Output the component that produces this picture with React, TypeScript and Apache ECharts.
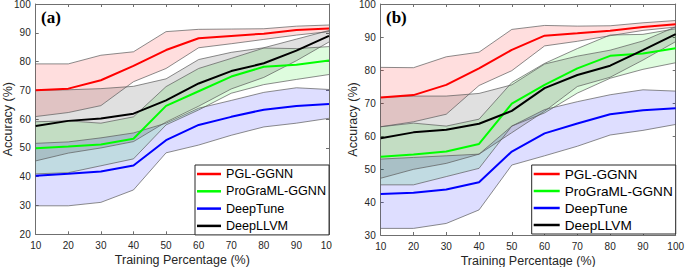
import React, { useEffect, useRef } from 'react';
import * as echarts from 'echarts';

const categories = ['10', '20', '30', '40', '50', '60', '70', '80', '90', '100'];
const seriesNames = ['PGL-GGNN', 'ProGraML-GGNN', 'DeepTune', 'DeepLLVM'];
const lineColors = ['#ff0000', '#00ff00', '#0000ff', '#000000'];
const bandColors = ['rgba(255,0,0,0.13)', 'rgba(0,230,0,0.13)', 'rgba(0,0,255,0.13)', 'rgba(0,0,0,0.12)'];

// Panel (a)
const aPglMean = [70.0, 70.6, 73.5, 78.5, 84.0, 88.1, 88.9, 89.7, 91.0, 91.5];
const aPglUpper = [79.2, 79.2, 82.2, 83.4, 90.4, 91.2, 91.3, 91.4, 92.3, 92.7];
const aPglLower = [60.9, 62.3, 64.7, 73.0, 77.6, 84.8, 86.2, 87.7, 89.2, 90.4];
const aProMean = [49.9, 50.5, 51.2, 53.2, 64.6, 69.7, 74.8, 78.2, 78.9, 80.4];
const aProUpper = [59.1, 59.4, 58.6, 60.8, 71.3, 77.6, 81.1, 84.7, 84.5, 85.2];
const aProLower = [41.0, 41.4, 43.8, 46.2, 58.0, 63.2, 69.0, 72.0, 73.8, 75.5];
const aTuneMean = [40.3, 41.0, 41.8, 43.9, 52.7, 58.0, 60.8, 63.3, 64.6, 65.3];
const aTuneUpper = [51.6, 52.1, 53.5, 55.2, 58.6, 63.8, 66.5, 69.3, 70.9, 70.3];
const aTuneLower = [29.9, 29.9, 31.1, 35.4, 48.3, 51.0, 54.4, 57.3, 58.6, 60.3];
const aLlvmMean = [57.6, 59.4, 60.2, 61.9, 66.5, 72.4, 76.7, 79.4, 83.8, 88.9];
const aLlvmUpper = [70.0, 70.2, 70.6, 71.4, 74.0, 80.7, 83.2, 84.8, 87.8, 90.8];
const aLlvmLower = [45.5, 48.2, 50.0, 52.2, 59.0, 64.5, 70.5, 74.5, 80.3, 86.8];

// Panel (b)
const bPglMean = [71.7, 72.4, 75.5, 80.5, 86.1, 90.4, 91.1, 91.9, 93.0, 93.9];
const bPglUpper = [80.8, 80.7, 84.0, 85.4, 92.3, 93.5, 93.3, 93.4, 94.3, 95.0];
const bPglLower = [62.8, 64.3, 66.6, 75.3, 79.8, 87.3, 88.7, 90.4, 92.0, 93.0];
const bProMean = [53.7, 54.4, 55.3, 57.6, 69.8, 75.5, 80.5, 84.3, 85.0, 86.6];
const bProUpper = [62.8, 63.9, 63.0, 65.1, 76.2, 82.0, 86.5, 90.6, 90.8, 92.5];
const bProLower = [45.2, 45.2, 47.7, 50.2, 63.0, 67.0, 73.0, 77.5, 80.2, 82.2];
const bTuneMean = [42.4, 42.8, 43.8, 46.0, 55.3, 60.8, 63.8, 66.6, 67.8, 68.4];
const bTuneUpper = [53.0, 53.5, 54.0, 54.5, 63.0, 68.0, 70.4, 72.5, 74.0, 73.6];
const bTuneLower = [32.0, 32.0, 33.5, 37.6, 51.2, 54.0, 56.9, 60.3, 61.7, 63.5];
const bLlvmMean = [59.3, 61.1, 61.9, 63.7, 67.6, 74.5, 78.5, 81.3, 86.0, 90.9];
const bLlvmUpper = [71.7, 72.1, 72.1, 72.9, 75.5, 81.8, 84.2, 86.0, 88.8, 93.1];
const bLlvmLower = [47.2, 49.9, 51.7, 54.5, 61.0, 67.5, 75.0, 77.8, 83.0, 88.6];

const yTicksA = { min: 20, max: 100, interval: 10 };
const yTicksB = { min: 30, max: 100, interval: 10 };

const FONT = '"Liberation Sans", Arial, sans-serif';
const AXIS_COLOR = '#6f6f6f';
const TEXT_COLOR = '#262626';

function buildSeries(means: number[][], uppers: number[][], lowers: number[][]) {
  const bands: any[] = [];
  const lines: any[] = [];
  for (let i = 0; i < means.length; i++) {
    bands.push({
      type: 'line',
      name: 'band-low-' + i,
      stack: 'band' + i,
      data: lowers[i],
      symbol: 'none',
      silent: true,
      emphasis: { disabled: true },
      lineStyle: { color: '#5a5a5a', width: 0.7 },
      z: 1,
    });
    bands.push({
      type: 'line',
      name: 'band-high-' + i,
      stack: 'band' + i,
      data: uppers[i].map((u, j) => +(u - lowers[i][j]).toFixed(3)),
      symbol: 'none',
      silent: true,
      emphasis: { disabled: true },
      lineStyle: { color: '#5a5a5a', width: 0.7 },
      areaStyle: { color: bandColors[i], opacity: 1 },
      z: 1,
    });
    lines.push({
      type: 'line',
      name: seriesNames[i],
      data: means[i],
      symbol: 'none',
      emphasis: { disabled: true },
      lineStyle: { color: lineColors[i], width: 2 },
      itemStyle: { color: lineColors[i] },
      z: 3,
    });
  }
  return [...bands, ...lines];
}

function makeOption(cfg: any) {
  const axisLine = { show: true, lineStyle: { color: AXIS_COLOR, width: 1 } };
  const tick = { show: true, inside: true, length: 3, lineStyle: { color: AXIS_COLOR } };
  return {
    animation: false,
    grid: {
      left: cfg.gridLeft,
      right: cfg.gridRight,
      top: 4,
      bottom: cfg.gridBottom,
      show: false,
      containLabel: false,
      outerBoundsMode: 'none',
    },
    xAxis: [
      {
        type: 'category',
        data: categories,
        boundaryGap: false,
        axisLine,
        axisTick: { ...tick, interval: 0 },
        axisLabel: { interval: 0, fontSize: 10, color: TEXT_COLOR, fontFamily: FONT, margin: 6, hideOverlap: false },
        splitLine: { show: false },
        name: 'Training Percentage (%)',
        nameLocation: 'middle',
        nameGap: 19,
        nameMoveOverlap: false,
        nameTextStyle: { fontSize: 12.5, color: TEXT_COLOR, fontFamily: FONT },
      },
      {
        type: 'category',
        data: categories,
        boundaryGap: false,
        position: 'top',
        axisLine,
        axisTick: { ...tick, interval: 0 },
        axisLabel: { show: false },
        splitLine: { show: false },
      },
    ],
    yAxis: [
      {
        type: 'value',
        min: cfg.yTicks.min,
        max: cfg.yTicks.max,
        interval: cfg.yTicks.interval,
        axisLine,
        axisTick: tick,
        axisLabel: { fontSize: 10, color: TEXT_COLOR, fontFamily: FONT, margin: 5 },
        splitLine: { show: false },
        name: 'Accuracy (%)',
        nameLocation: 'middle',
        nameGap: 21,
        nameMoveOverlap: false,
        nameTextStyle: { fontSize: 12.5, color: TEXT_COLOR, fontFamily: FONT },
      },
      {
        type: 'value',
        position: 'right',
        min: cfg.yTicks.min,
        max: cfg.yTicks.max,
        interval: cfg.yTicks.interval,
        axisLine,
        axisTick: tick,
        axisLabel: { show: false },
        splitLine: { show: false },
      },
    ],
    legend: {
      orient: 'vertical',
      left: cfg.legendLeft,
      top: 165,
      data: seriesNames,
      icon: 'rect',
      itemWidth: cfg.legendItemWidth,
      itemHeight: 2.5,
      itemGap: cfg.legendGap,
      padding: [1.5, 3, 1.5, 2],
      borderColor: TEXT_COLOR,
      borderWidth: 1,
      borderRadius: 0,
      backgroundColor: '#ffffff',
      selectedMode: false,
      textStyle: { fontSize: cfg.legendFont, fontFamily: FONT, color: '#000', lineHeight: 15 },
    },
    graphic: [
      {
        type: 'text',
        left: 41,
        top: 9,
        style: { text: cfg.tag, font: 'bold 17px "Liberation Serif", "Times New Roman", serif', fill: '#000' },
      },
    ],
    series: buildSeries(cfg.means, cfg.uppers, cfg.lowers),
  };
}

function Chart({ cfg, style }: { cfg: any; style: React.CSSProperties }) {
  const ref = useRef<HTMLDivElement>(null);
  useEffect(() => {
    if (!ref.current) return;
    const chart = echarts.init(ref.current, null, { renderer: 'svg' });
    chart.setOption(makeOption(cfg));
    return () => chart.dispose();
  }, [cfg]);
  return <div ref={ref} style={style} />;
}

const cfgA = {
  tag: '(a)',
  yTicks: yTicksA,
  gridLeft: 35.7,
  gridRight: 3,
  gridBottom: 32.7,
  legendLeft: 195,
  legendItemWidth: 24,
  legendGap: 2.3,
  legendFont: 12.6,
  means: [aPglMean, aProMean, aTuneMean, aLlvmMean],
  uppers: [aPglUpper, aProUpper, aTuneUpper, aLlvmUpper],
  lowers: [aPglLower, aProLower, aTuneLower, aLlvmLower],
};

const cfgB = {
  tag: '(b)',
  yTicks: yTicksB,
  gridLeft: 35.7,
  gridRight: 9.3,
  gridBottom: 32,
  legendLeft: 186.7,
  legendItemWidth: 26,
  legendGap: 2,
  legendFont: 13.6,
  means: [bPglMean, bProMean, bTuneMean, bLlvmMean],
  uppers: [bPglUpper, bProUpper, bTuneUpper, bLlvmUpper],
  lowers: [bPglLower, bProLower, bTuneLower, bLlvmLower],
};

export default function App() {
  return (
    <div style={{ position: 'absolute', left: 0, top: 0, width: 685, height: 267, background: '#fff', overflow: 'hidden' }}>
      <Chart cfg={cfgA} style={{ position: 'absolute', left: 0, top: 0, width: 332, height: 267, overflow: 'hidden' }} />
      <Chart cfg={cfgB} style={{ position: 'absolute', left: 345, top: 0, width: 340, height: 267, overflow: 'hidden' }} />
    </div>
  );
}
